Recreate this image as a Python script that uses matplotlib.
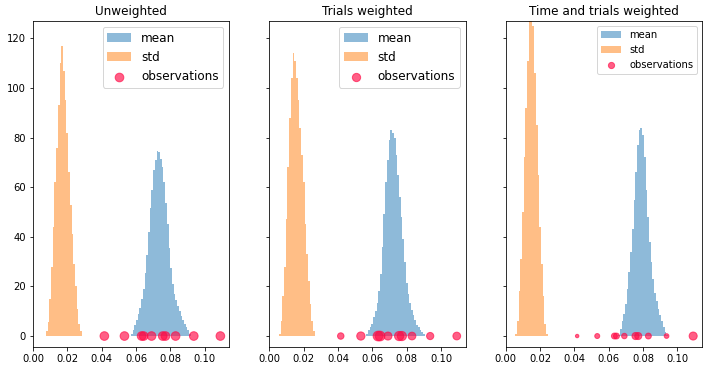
import numpy as np
import matplotlib
matplotlib.use('Agg')
import matplotlib.pyplot as plt

# observed values (same in all three panels)
observations = [0.0416, 0.0533, 0.0633, 0.0645, 0.0691, 0.0756, 0.0772, 0.0831, 0.0937, 0.1092]

# marker sizes per panel (weights)
obs_size_unweighted = [75] * 10
obs_size_trials = [42, 68, 95, 95, 65, 85, 85, 60, 52, 60]
obs_size_time = [12, 25, 35, 35, 30, 50, 50, 35, 22, 65]

titles = ['Unweighted', 'Trials weighted', 'Time and trials weighted']

# posterior histograms (density per bin of width 0.001), first/last bin edge
mean_unweighted_range = (0.057, 0.092)
mean_unweighted = [1, 2.5, 4.5, 6.5, 9, 11.5, 15, 19, 25.5, 32.5,
                   42, 51.5, 59, 67, 71, 74.5, 74, 71.5, 68, 62,
                   53.5, 45, 35.5, 27.5, 21, 17, 14.5, 12, 10, 8,
                   6.5, 5, 3.5, 2.3, 1]
std_unweighted_range = (0.0075, 0.0285)
std_unweighted = [2, 5.5, 15, 28, 44, 62, 76, 93, 110, 117,
                  107, 95, 82, 66, 53, 41, 29, 20, 11, 5, 2]

mean_trials_range = (0.0565, 0.0905)
mean_trials = [1, 2.5, 3.5, 5, 7.5, 10, 13.5, 18, 25, 36,
               49, 62, 71, 79, 83, 82, 80, 73, 65, 56,
               48, 39, 30, 21.5, 17, 13.5, 10.5, 8.5, 6.5, 4.5,
               3.5, 2.5, 1.5, 0.7]
std_trials_range = (0.0055, 0.0265)
std_trials = [1, 6, 16, 28, 47, 68, 88, 104, 114, 111,
              104, 95, 84, 73, 62, 45, 33, 22, 13, 6, 2]

mean_time_range = (0.0655, 0.0945)
mean_time = [0.5, 3, 6, 9, 13, 19, 26, 34, 43, 55,
             66, 77, 83, 84, 81, 72, 59, 48, 38, 30,
             23, 17.5, 14, 11, 8.5, 6, 3.5, 1.5, 0.5]
std_time_range = (0.0055, 0.0245)
std_time = [1, 6, 18, 31, 50, 72, 92, 111, 128, 137,
            125, 106, 85, 65, 44, 29, 16, 5, 1]

panels = [
    (mean_unweighted_range, mean_unweighted, std_unweighted_range, std_unweighted, obs_size_unweighted, 'large'),
    (mean_trials_range, mean_trials, std_trials_range, std_trials, obs_size_trials, 'large'),
    (mean_time_range, mean_time, std_time_range, std_time, obs_size_time, 'medium'),
]

fig, axes = plt.subplots(1, 3, sharey=True, figsize=(709 / 72, 371 / 72), dpi=72)
fig.subplots_adjust(left=0.0465, right=0.9905, bottom=0.0655, top=0.9434, wspace=0.203)

for ax, title, (m_rng, m_vals, s_rng, s_vals, sizes, legsize) in zip(axes, titles, panels):
    m_edges = np.linspace(m_rng[0], m_rng[1], len(m_vals) + 1)
    s_edges = np.linspace(s_rng[0], s_rng[1], len(s_vals) + 1)
    ax.stairs(m_vals, m_edges, fill=True, color='#1f77b4', alpha=0.5, label='mean')
    ax.stairs(s_vals, s_edges, fill=True, color='#ff7f0e', alpha=0.5, label='std')
    ax.scatter(observations, np.zeros(len(observations)), s=sizes,
               color='#ff0a45', alpha=0.65, label='observations', zorder=3)
    ax.set_title(title)
    ax.legend(loc='upper right', fontsize=legsize)
    ax.set_xlim(0, 0.1145)
    ax.set_xticks([0.0, 0.02, 0.04, 0.06, 0.08, 0.10])

axes[0].set_ylim(-4.3, 127)
axes[0].set_yticks([0, 20, 40, 60, 80, 100, 120])

plt.savefig('out.png', dpi=72)
